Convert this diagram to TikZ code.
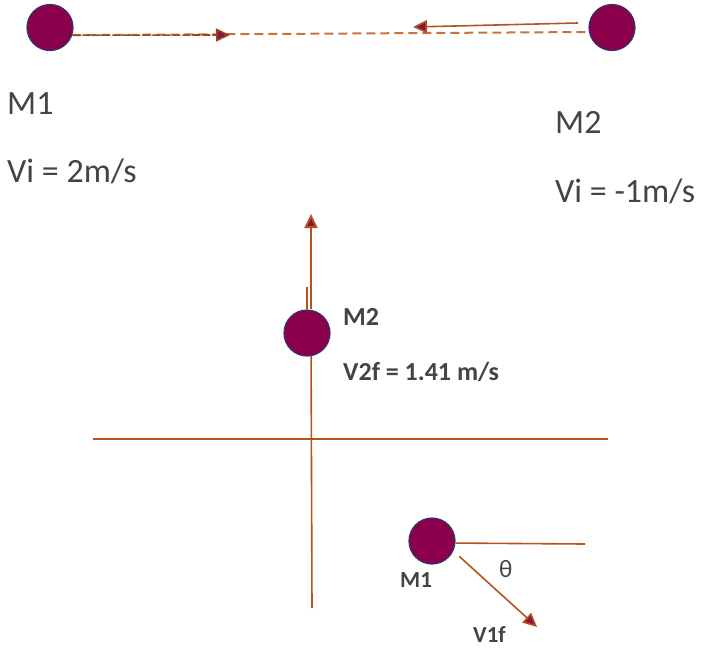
\documentclass[tikz,border=0pt]{standalone}
\usepackage{fontspec}
\setmainfont{Carlito}
\usetikzlibrary{arrows.meta}
\definecolor{ballfill}{RGB}{139,0,75}
\definecolor{balledge}{RGB}{55,50,110}
\definecolor{linec}{RGB}{181,82,30}
\definecolor{dashc}{RGB}{200,115,60}
\definecolor{tipc}{RGB}{139,20,70}
\definecolor{txt}{RGB}{68,68,68}
\tikzset{
  ball/.style={circle, minimum size=46pt, inner sep=0pt, fill=ballfill, draw=balledge, line width=1.2pt},
  vline/.style={draw=linec, line width=1.6pt},
  arr/.style={vline, -{Triangle[length=14pt,width=13pt,fill=tipc]}},
  bigtxt/.style={anchor=base west, text=txt, font=\fontsize{34}{40}\selectfont, inner sep=0pt},
  midtxt/.style={anchor=base west, text=txt, font=\fontsize{26}{31}\selectfont\bfseries, inner sep=0pt},
  smalltxt/.style={anchor=base west, text=txt, font=\fontsize{23}{27}\selectfont\bfseries, inner sep=0pt},
}
\begin{document}
\begin{tikzpicture}[x=1pt, y=-1pt]
\useasboundingbox (0,0) rectangle (704,649);
% coordinates
\coordinate (aonetip) at (230,35);
\coordinate (atwostart) at (578,23);
\coordinate (atwotip) at (413,27);
\coordinate (vtwotip) at (311,214);
\coordinate (ybot) at (312,608);
\coordinate (xl) at (93,439);
\coordinate (xr) at (608,439);
\coordinate (hr) at (585,544);
\coordinate (vonetip) at (537,627);
% axes
\draw[vline] (xl) -- (xr);
\draw[vline] (vtwotip |- 0,333) -- (ybot);
% balls
\node[ball] (m1top) at (50,27.5) {};
\node[ball] (m2top) at (612,27.5) {};
\node[ball] (m2mid) at (307,333) {};
\node[ball] (m1bot) at (432,541) {};
% top connectors
\draw[draw=dashc, line width=2pt, dash pattern=on 9pt off 5pt] (m1top.-19) -- (m2top.191);
\draw[arr, draw=linec!85!black, dash pattern=on 8pt off 2pt] (m1top.-19) -- (aonetip);
\draw[arr] (atwostart) -- (atwotip);
% middle
\draw[arr, line width=1.9pt] (m2mid.north -| vtwotip) -- (vtwotip);
\draw[vline, line width=1.2pt] (m2mid.north) -- ++(0,-22);
% bottom
\draw[vline] (m1bot.-5) -- (hr);
\draw[arr, shorten <=8pt] (m1bot.-25) -- (vonetip);
% labels
\node[bigtxt] (lm1) at (7,114) {M1};
\node[bigtxt] (lv1) at (7,182) {Vi = 2m/s};
\node[bigtxt] (lm2) at (555,133) {M2};
\node[bigtxt] (lv2) at (555,202) {Vi = -1m/s};
\node[midtxt] (lm2mid) at (343,325) {M2};
\node[midtxt] (lv2f) at (343,380) {V2f = 1.41 m/s};
\node[smalltxt] (lm1bot) at (400,587) {M1};
\node[anchor=base west, text=txt, font=\fontsize{25}{30}\selectfont, inner sep=0pt] (ltheta) at (499,577) {θ};
\node[smalltxt] (lv1f) at (473,642) {V1f};
\end{tikzpicture}
\end{document}
